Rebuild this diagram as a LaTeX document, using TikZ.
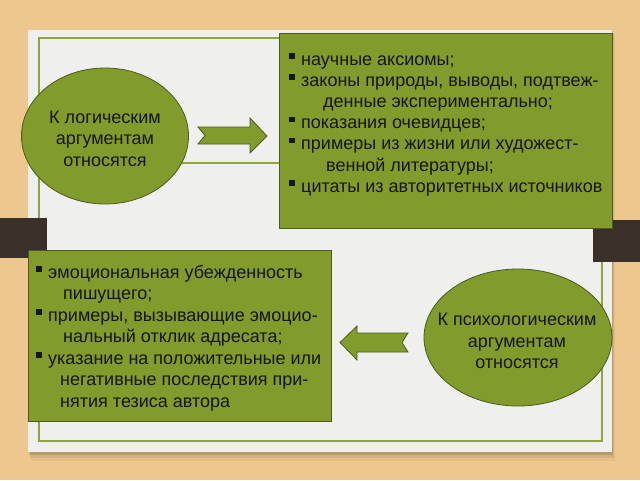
\documentclass[tikz,border=0pt]{standalone}
\usepackage{fontspec}
\setmainfont{Liberation Sans}
\usetikzlibrary{shapes.geometric}
\definecolor{wood}{HTML}{EDC78D}
\definecolor{panel}{HTML}{EFEFED}
\definecolor{olive}{HTML}{819B2C}
\definecolor{olivedark}{HTML}{4C5A1E}
\definecolor{frameline}{HTML}{8EA43E}
\definecolor{band}{HTML}{3B2F29}
\definecolor{txt}{HTML}{161612}
\newcommand{\bsq}{\makebox[12pt][l]{\raisebox{6.5pt}{\rule{5.5pt}{5.5pt}}}}
\begin{document}
\begin{tikzpicture}[x=1pt,y=-1pt,
  box/.style={draw=olivedark,line width=0.8pt,fill=olive,inner sep=0pt,anchor=north west},
  ell/.style={ellipse,draw=olivedark,line width=0.8pt,fill=olive,inner sep=0pt},
  elltext/.style={inner sep=0pt,align=center,text=txt,font=\fontsize{18}{21.5}\selectfont},
  blockarrow/.style={draw=olivedark,line width=0.8pt,fill=olive,line join=miter},
  frame/.style={draw=frameline,line width=1.5pt},
  listtext/.style={anchor=base west,inner sep=0pt,text=txt}]
\useasboundingbox (0,0) rectangle (640,480);
\fill[wood] (0,0) rectangle (640,480);
% panel shadow
\fill[black,opacity=0.04] (31,35) rectangle (615,461);
\fill[black,opacity=0.07] (30,33) rectangle (614,458);
\fill[black,opacity=0.12] (29,31) rectangle (613,455);
\fill[panel] (28,30) rectangle (612,452);
% inner frame
\draw[frame] (39,38) rectangle (602,441);
\coordinate (hlstart) at (39,163);
\coordinate (hlend) at (279,163);
\draw[frame] (hlstart) -- (hlend);
% dark bands
\fill[band] (0,218) rectangle (47,258);
\fill[band] (593,220) rectangle (640,262);
% rectangles
\node[box,minimum width=333pt,minimum height=195pt] (toprect) at (279,33) {};
\node[box,minimum width=303pt,minimum height=171pt] (botrect) at (28,250) {};
% ellipses
\node[ell,minimum width=167pt,minimum height=136pt] (lc) at (105,136) {};
\node[elltext] (lctext) at ([yshift=-2.5pt]lc.center) {К логическим\\аргументам\\относятся};
\node[ell,minimum width=188pt,minimum height=137pt] (rc) at (518,337.5) {};
\node[elltext] (rctext) at ([yshift=-3.5pt,xshift=-1pt]rc.center) {К психологическим\\аргументам\\относятся};
% arrows
\draw[blockarrow] (198,127) -- (250,127) -- (250,118) -- (267,136) -- (250,153) -- (250,144) -- (198,144) -- (205,135.5) -- cycle;
\draw[blockarrow] (340,342.5) -- (357,326) -- (357,333) -- (408,333) -- (402,342.5) -- (408,352) -- (357,352) -- (357,360) -- cycle;
% texts
\node[listtext] (toptext) at (289,65) {\parbox[t]{320pt}{\raggedright\fontsize{18}{21.2}\selectfont
\bsq научные аксиомы;\\
\bsq законы природы, выводы, подтвеж-\\
\hspace*{34pt}денные экспериментально;\\
\bsq показания очевидцев;\\
\bsq примеры из жизни или художест-\\
\hspace*{37pt}венной литературы;\\
\bsq цитаты из авторитетных источников}};
\node[listtext] (bottext) at (36,278) {\parbox[t]{300pt}{\raggedright\fontsize{18}{21.5}\selectfont
\bsq эмоциональная убежденность\\
\hspace*{27pt}пишущего;\\
\bsq примеры, вызывающие эмоцио-\\
\hspace*{27pt}нальный отклик адресата;\\
\bsq указание на положительные или\\
\hspace*{24pt}негативные последствия при-\\
\hspace*{24pt}нятия тезиса автора}};
\end{tikzpicture}
\end{document}
